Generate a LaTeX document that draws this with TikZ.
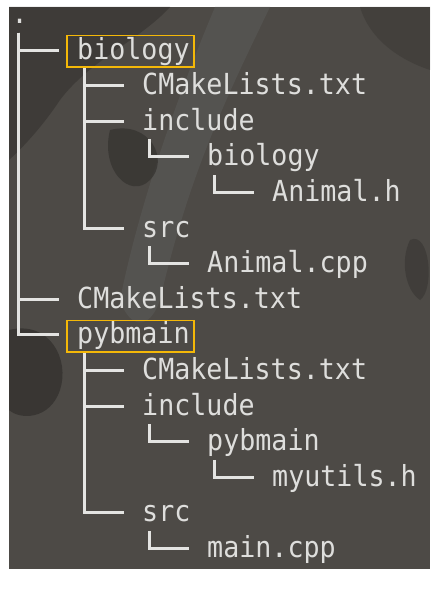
\documentclass[tikz,border=0pt]{standalone}
\usepackage{fontspec}
\setmonofont[FakeStretch=0.92]{DejaVu Sans Mono}
\definecolor{bg}{RGB}{77,74,70}
\definecolor{bgdark}{RGB}{52,50,47}
\definecolor{bglight}{RGB}{92,92,90}
\definecolor{txt}{RGB}{222,222,220}
\definecolor{ln}{RGB}{228,228,226}
\definecolor{amber}{RGB}{244,184,8}
\tikzset{
  item/.style={font=\fontsize{29}{32}\selectfont\ttfamily, text=txt, inner sep=0pt, anchor=west, text height=27pt, text depth=9pt},
  branch/.style={draw=ln, line width=3pt},
  hl/.style={draw=amber, line width=1.8pt}
}
\begin{document}
\begin{tikzpicture}[x=1pt,y=-1pt]
\useasboundingbox (0,0) rectangle (439,604);
\fill[white] (0,0) rectangle (439,604);
\fill[bg] (9,7) rectangle (430,569);
\begin{scope}
\clip (9,7) rectangle (430,569);
\fill[bgdark,opacity=0.6] (9,7) -- (170,7) .. controls (140,40) and (90,60) .. (60,100) .. controls (40,130) and (20,150) .. (9,160) -- cycle;
\fill[bglight,opacity=0.5] (215,7) -- (270,7) .. controls (230,90) and (190,170) .. (160,300) .. controls (150,330) and (130,330) .. (120,300) .. controls (140,200) and (180,90) .. cycle;
\fill[bgdark,opacity=0.7] (110,130) .. controls (150,120) and (170,160) .. (150,180) .. controls (130,200) and (100,170) .. cycle;
\fill[bgdark,opacity=0.8] (9,330) .. controls (50,320) and (70,360) .. (60,390) .. controls (50,420) and (20,420) .. (9,410) -- cycle;
\fill[bgdark,opacity=0.4] (360,7) -- (430,7) -- (430,70) .. controls (400,60) and (370,40) .. cycle;
\fill[bgdark,opacity=0.5] (410,240) .. controls (430,230) and (435,290) .. (420,300) .. controls (405,290) and (400,260) .. cycle;
\end{scope}

% nodes
\node[item] (r)   at (11.5, 14.5) {.};
\node[item] (b)   at (77, 50.1)  {biology};
\node[item] (bc)  at (142, 85.7) {CMakeLists.txt};
\node[item] (bi)  at (142,121.3) {include};
\node[item] (bib) at (207,156.9) {biology};
\node[item] (bia) at (272,192.5) {Animal.h};
\node[item] (bs)  at (142,228.1) {src};
\node[item] (bsa) at (207,263.7) {Animal.cpp};
\node[item] (c)   at (77,299.3)  {CMakeLists.txt};
\node[item] (p)   at (77,334.9)  {pybmain};
\node[item] (pc)  at (142,370.5) {CMakeLists.txt};
\node[item] (pi)  at (142,406.1) {include};
\node[item] (pip) at (207,441.7) {pybmain};
\node[item] (pim) at (272,477.3) {myutils.h};
\node[item] (ps)  at (142,512.9) {src};
\node[item] (psm) at (207,548.5) {main.cpp};

% highlight boxes
\draw[hl] ([shift={(-10,-14.5)}]b.west) rectangle ([shift={(4,17)}]b.east);
\draw[hl] ([shift={(-10,-14.5)}]p.west) rectangle ([shift={(4,17)}]p.east);

% branches
\foreach \pa/\ch in {r/b, r/c, r/p, b/bc, b/bi, b/bs, bi/bib, bib/bia, bs/bsa, p/pc, p/pi, p/ps, pi/pip, pip/pim, ps/psm}
  \draw[branch] ([xshift=7pt]\pa.south west) |- ([xshift=-18pt]\ch.west);
\end{tikzpicture}
\end{document}
